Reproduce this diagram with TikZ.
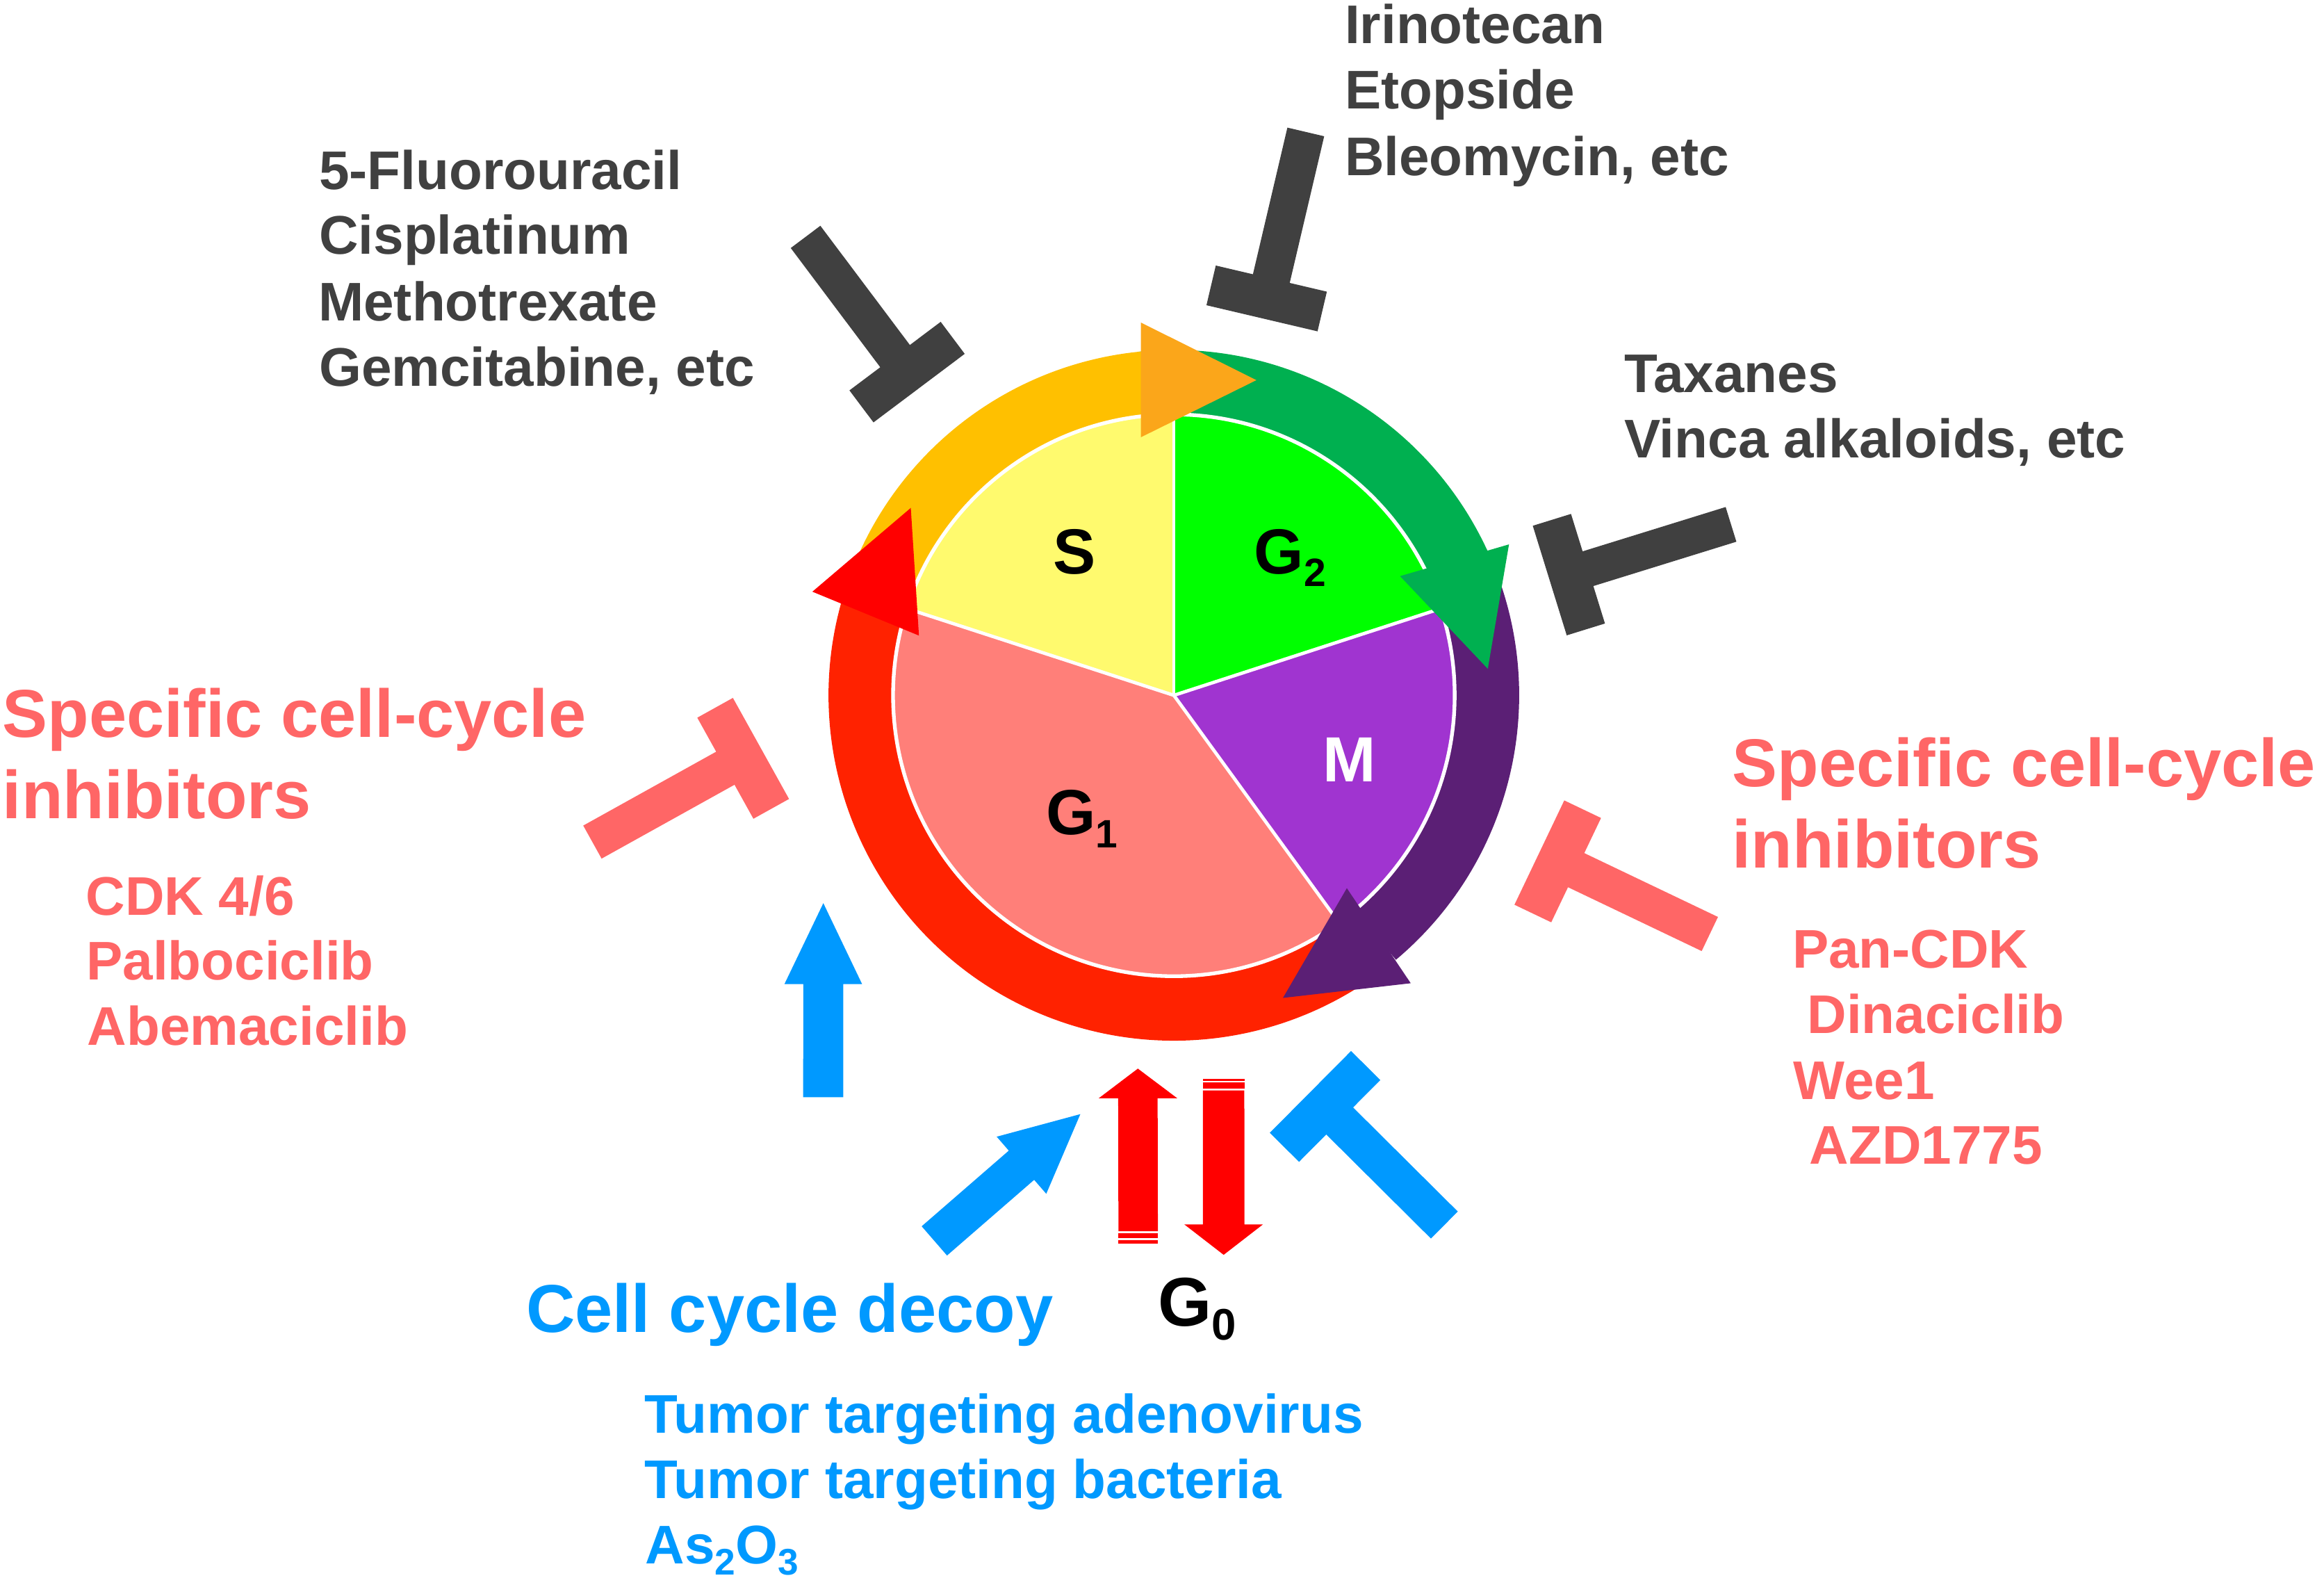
\documentclass[tikz,border=0pt]{standalone}
\usepackage{fontspec}
\setmainfont{Liberation Sans}
\usepackage{graphicx}
\usetikzlibrary{calc}
\definecolor{ringorange}{RGB}{255,192,0}
\definecolor{ringgreen}{RGB}{0,176,80}
\definecolor{ringpurple}{RGB}{91,31,117}
\definecolor{ringred}{RGB}{255,34,0}
\definecolor{headorange}{RGB}{251,166,26}
\definecolor{headred}{RGB}{255,0,0}
\definecolor{pieS}{RGB}{255,250,110}
\definecolor{pieGtwo}{RGB}{0,255,0}
\definecolor{pieM}{RGB}{160,52,208}
\definecolor{pieGone}{RGB}{255,127,121}
\definecolor{darkgr}{RGB}{64,64,64}
\definecolor{salmon}{RGB}{255,102,102}
\definecolor{skyblue}{RGB}{0,153,255}
\newcommand\subsc[2][0.62]{\raisebox{-0.2em}{\scalebox{#1}{#2}}}
% block arrow: color, tail, tip, shaft half width, head half width, head length
\newcommand\blockarrow[6]{%
  \coordinate (hb) at ($(#3)!#6!(#2)$);
  \fill[#1] ($(#2)!#4!90:(#3)$) -- ($(hb)!#4!90:(#3)$) -- ($(hb)!#5!90:(#3)$) -- (#3)
    -- ($(hb)!#5!-90:(#3)$) -- ($(hb)!#4!-90:(#3)$) -- ($(#2)!#4!-90:(#3)$) -- cycle;}
% inhibition bar: color, stem start, bar centre, stem width, bar half length, bar thickness
\newcommand\tbarshape[6]{%
  \draw[#1, line width=#4] (#2) -- (#3);
  \draw[#1, line width=#6] ($(#3)!#5!90:(#2)$) -- ($(#3)!#5!-90:(#2)$);}
\tikzset{
  drug/.style={anchor=base west, inner sep=0pt, font=\bfseries\fontsize{20.9}{25}\selectfont},
  big/.style={anchor=base west, inner sep=0pt, font=\bfseries\fontsize{26}{31}\selectfont},
  phase/.style={anchor=base, inner sep=0pt, font=\bfseries\fontsize{24.5}{29}\selectfont},
  ring/.style={line width=0.86cm},
}
\begin{document}
\begin{tikzpicture}[x=0.02cm,y=0.02cm]
\useasboundingbox (0,0) rectangle (1568,-1075);
\fill[white] (0,0) rectangle (1568,-1075);
\coordinate (C) at (792,-469);
% ring
\draw[ring, ringred] ($(C)+(160:4.23cm)$) arc[start angle=160, end angle=308, radius=4.23cm];
\draw[ring, ringpurple] ($(C)+(-50:4.23cm)$) arc[start angle=-50, end angle=25, radius=4.23cm];
\draw[ring, ringgreen] ($(C)+(24:4.23cm)$) arc[start angle=24, end angle=96, radius=4.23cm];
\draw[ring, ringorange] ($(C)+(95:4.23cm)$) arc[start angle=95, end angle=160, radius=4.23cm];
% pie
\fill[pieS] (C) -- ($(C)+(90:3.79cm)$) arc[start angle=90, end angle=162, radius=3.79cm] -- cycle;
\fill[pieGone] (C) -- ($(C)+(162:3.79cm)$) arc[start angle=162, end angle=306, radius=3.79cm] -- cycle;
\fill[pieM] (C) -- ($(C)+(-54:3.79cm)$) arc[start angle=-54, end angle=18, radius=3.79cm] -- cycle;
\fill[pieGtwo] (C) -- ($(C)+(18:3.79cm)$) arc[start angle=18, end angle=90, radius=3.79cm] -- cycle;
\draw[white, line width=0.045cm] (C) -- ($(C)+(90:3.79cm)$);
\draw[white, line width=0.045cm] (C) -- ($(C)+(162:3.79cm)$);
\draw[white, line width=0.045cm] (C) -- ($(C)+(-54:3.79cm)$);
\draw[white, line width=0.045cm] (C) -- ($(C)+(18:3.79cm)$);
\draw[white, line width=0.05cm] (C) circle[radius=3.79cm];
% arrowheads on the ring
\coordinate (oa) at (769.8,-217.6); \coordinate (ob) at (769.8,-294.9); \coordinate (oc) at (847.7,-256.4);
\fill[headorange] (oa) -- (ob) -- (oc) -- cycle;
\coordinate (ga) at (944.6,-388.6); \coordinate (gb) at (1018.1,-367.2); \coordinate (gc) at (1003.8,-451.1);
\fill[ringgreen] (ga) -- (gb) -- (gc) -- cycle;
\coordinate (pa) at (908.7,-599.1); \coordinate (pb) at (951.8,-663.2); \coordinate (pc) at (865.6,-673.1);
\fill[ringpurple] (pa) -- (pb) -- (pc) -- cycle;
\coordinate (ra) at (614.5,-342.6); \coordinate (rb) at (620,-428.7); \coordinate (rc) at (548.1,-399.1);
\fill[headred] (ra) -- (rb) -- (rc) -- cycle;
% phase labels
\node[phase] (lS) at (725,-387) {S};
\node[phase] (lGtwo) at (870.5,-387) {G\subsc{2}};
\node[phase, text=white] (lM) at (910.5,-527.4) {M};
\node[phase] (lGone) at (729.9,-563) {G\subsc{1}};
\node[phase, font=\bfseries\fontsize{26.5}{31}\selectfont] (lGzero) at (807.7,-894.3) {G\subsc[0.64]{0}};
% inhibition bars
\coordinate (s1) at (543.5,-159.8); \coordinate (b1) at (612,-251);
\tbarshape{darkgr}{s1}{b1}{0.50cm}{0.77cm}{0.54cm}
\coordinate (s2) at (881,-89); \coordinate (b2) at (854.6,-201.3);
\tbarshape{darkgr}{s2}{b2}{0.51cm}{0.77cm}{0.55cm}
\coordinate (s3) at (1167.9,-353.7); \coordinate (b3) at (1058.5,-387.6);
\tbarshape{darkgr}{s3}{b3}{0.49cm}{0.774cm}{0.54cm}
\coordinate (s4) at (399.7,-568); \coordinate (b4) at (501.4,-511.5);
\tbarshape{salmon}{s4}{b4}{0.51cm}{0.78cm}{0.55cm}
\coordinate (s5) at (1153.6,-630); \coordinate (b5) at (1051,-581);
\tbarshape{salmon}{s5}{b5}{0.51cm}{0.78cm}{0.55cm}
\coordinate (s6) at (974.5,-826.3); \coordinate (b6) at (894,-746.3);
\tbarshape{skyblue}{s6}{b6}{0.514cm}{0.778cm}{0.556cm}
% blue arrows
\coordinate (t7) at (555.4,-740.1); \coordinate (h7) at (555.5,-609.2);
\blockarrow{skyblue}{t7}{h7}{0.27cm}{0.524cm}{1.092cm}
\coordinate (t8) at (630.4,-837); \coordinate (h8) at (728.9,-751.5);
\blockarrow{skyblue}{t8}{h8}{0.261cm}{0.51cm}{1.052cm}
% red arrows G0
\coordinate (tu) at (767.9,-830.5); \coordinate (hu) at (767.7,-720.8);
\blockarrow{headred}{tu}{hu}{0.266cm}{0.53cm}{0.40cm}
\fill[headred] (754.6,-832) rectangle (781.2,-835.2);
\fill[headred] (754.6,-836.6) rectangle (781.2,-839);
\coordinate (td) at (825.55,-735.5); \coordinate (hd) at (825.6,-846.4);
\blockarrow{headred}{td}{hd}{0.28cm}{0.53cm}{0.41cm}
\fill[headred] (811.5,-727.6) rectangle (839.6,-729.1);
\fill[headred] (811.5,-730.2) rectangle (839.6,-734.3);
% texts top
\node[drug, text=darkgr] (d1) at (215,-127.7) {5-Fluorouracil};
\node[drug, text=darkgr] (d2) at (215,-171.6) {Cisplatinum};
\node[drug, text=darkgr] (d3) at (214.5,-216.6) {Methotrexate};
\node[drug, text=darkgr] (d4) at (215,-260.6) {Gemcitabine, etc};
\node[drug, text=darkgr] (d5) at (907,-29.3) {Irinotecan};
\node[drug, text=darkgr] (d6) at (907,-73.3) {Etopside};
\node[drug, text=darkgr] (d7) at (907,-118.3) {Bleomycin, etc};
\node[drug, text=darkgr] (d8) at (1095.5,-264.8) {Taxanes};
\node[drug, text=darkgr] (d9) at (1095.5,-308.7) {Vinca alkaloids, etc};
% left
\node[big, text=salmon] (sl1) at (1.5,-497.4) {Specific cell-cycle};
\node[big, text=salmon] (sl2) at (1.5,-552.1) {inhibitors};
\node[drug, text=salmon] (l1) at (57.6,-617.4) {CDK 4/6};
\node[drug, text=salmon] (l2) at (57.9,-661.1) {Palbociclib};
\node[drug, text=salmon] (l3) at (58.6,-704.9) {Abemaciclib};
% right
\node[big, text=salmon] (sr1) at (1168.5,-530.6) {Specific cell-cycle};
\node[big, text=salmon] (sr2) at (1168.5,-585.5) {inhibitors};
\node[drug, text=salmon] (r1) at (1209,-652.8) {Pan-CDK};
\node[drug, text=salmon] (r2) at (1219,-697.2) {Dinaciclib};
\node[drug, text=salmon] (r3) at (1209.7,-741.4) {Wee1};
\node[drug, text=salmon] (r4) at (1220.6,-785.2) {AZD1775};
% bottom
\node[big, text=skyblue] (cd) at (354.7,-898.7) {Cell cycle decoy};
\node[drug, text=skyblue] (c1) at (434.6,-966.7) {Tumor targeting adenovirus};
\node[drug, text=skyblue] (c2) at (434.6,-1010.8) {Tumor targeting bacteria};
\node[drug, text=skyblue] (c3) at (435,-1054.7) {As\subsc[0.68]{2}O\subsc[0.68]{3}};
\end{tikzpicture}
\end{document}
